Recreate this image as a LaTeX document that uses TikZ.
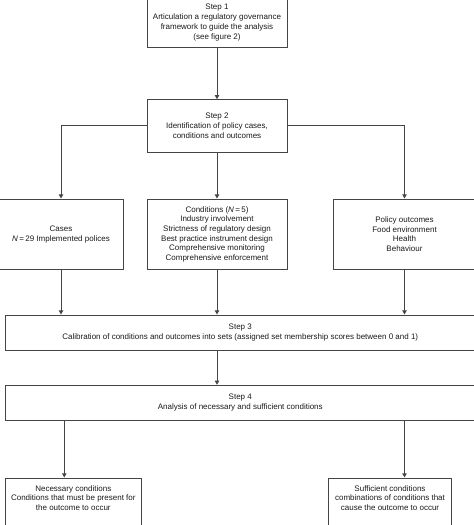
\documentclass[tikz,border=0pt]{standalone}
\usepackage{fontspec}
\setmainfont{Liberation Sans}
\usetikzlibrary{arrows.meta,calc}
\definecolor{linec}{HTML}{454545}
\definecolor{textc}{HTML}{1a1a1a}
\tikzset{
  box/.style={draw=linec, line width=1pt, align=center, inner sep=0pt,
    text=textc, font=\fontsize{8}{9.7}\selectfont},
  conn/.style={draw=linec, line width=1pt, -{Triangle[length=4.2pt,width=4.4pt]}},
  wire/.style={draw=linec, line width=1pt}
}
\begin{document}
\begin{tikzpicture}[x=1pt,y=-1pt]
\useasboundingbox (0,0) rectangle (474,525);
\clip (0,0) rectangle (474,525);
\node[box, minimum width=140pt, minimum height=49pt] (s1) at (217,22.5)
  {Step 1\\Articulation a regulatory governance\\framework to guide the analysis\\(see figure 2)};
\node[box, minimum width=140pt, minimum height=52.3pt] (s2) at (217,125.9)
  {Step 2\\Identification of policy cases,\\conditions and outcomes};
\node[box, minimum width=124pt, minimum height=70.3pt] (cases) at (61,234.2)
  {Cases\\\textit{N}\,=\,29 Implemented polices};
\node[box, minimum width=140pt, minimum height=70.3pt] (cond) at (217,234.2)
  {Conditions (\textit{N}\,=\,5)\\Industry involvement\\Strictness of regulatory design\\Best practice instrument design\\Comprehensive monitoring\\Comprehensive enforcement};
\node[box, minimum width=142.4pt, minimum height=70.3pt] (pol) at (404.5,234.2)
  {Policy outcomes\\Food environment\\Health\\Behaviour};
\node[box, minimum width=470pt, minimum height=35.3pt] (s3) at (240.3,332.7)
  {Step 3\\Calibration of conditions and outcomes into sets (assigned set membership scores between 0 and 1)};
\node[box, minimum width=470pt, minimum height=35pt] (s4) at (240.3,402.8)
  {Step 4\\Analysis of necessary and sufficient conditions};
\node[box, minimum width=136pt, minimum height=59pt] (nec) at (73.3,507.5)
  {Necessary conditions\\Conditions that must be present for\\the outcome to occur\\ \\ };
\node[box, minimum width=123.4pt, minimum height=59pt] (suf) at (390,507.5)
  {Sufficient conditions\\combinations of conditions that\\cause the outcome to occur\\ \\ };
\draw[conn] (s1) -- (s2);
\draw[conn] (s2.west) -| (cases.north);
\draw[conn] (s2) -- (cond);
\draw[conn] (s2.east) -| (pol.north);
\draw[conn] (cases.south) -- (cases.south |- s3.north);
\draw[conn] (cond.south) -- (cond.south |- s3.north);
\draw[conn] (pol.south) -- (pol.south |- s3.north);
\draw[conn] (cond.south |- s3.south) -- (cond.south |- s4.north);
\draw[conn] ([xshift=-9pt]nec.north |- s4.south) -- ([xshift=-9pt]nec.north);
\draw[conn] (pol.south |- s4.south) -- (pol.south |- suf.north);
\end{tikzpicture}
\end{document}
